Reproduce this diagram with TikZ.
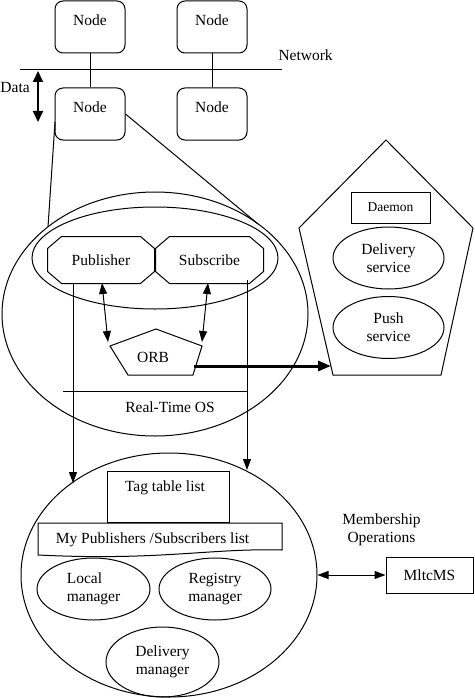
\documentclass[tikz,border=0pt]{standalone}
\usepackage{fontspec}
\setmainfont{Liberation Serif}
\usetikzlibrary{arrows.meta,shapes.geometric}
\newcommand\mainfs{\fontsize{15.5}{18}\selectfont}
\newcommand\smallfs{\fontsize{13.5}{16}\selectfont}
\begin{document}
\begin{tikzpicture}[x=1pt,y=-1pt,line width=1pt,
  >={Triangle[length=11pt,width=8pt]},
  every node/.style={font=\mainfs},
  txt/.style={inner sep=0pt},
  nodebox/.style={draw,rounded corners=8pt,minimum width=70pt,minimum height=52pt,inner sep=0pt},
  ell/.style={draw,ellipse,inner sep=0pt,align=center},
  box/.style={draw,inner sep=0pt}]
\useasboundingbox (0,0) rectangle (474,698);

% ---------- network of nodes ----------
\node[nodebox] (n1) at (90,27) {};
\node[txt] (n1t) at (90,20) {Node};
\node[nodebox] (n2) at (212,27) {};
\node[txt] (n2t) at (212,20) {Node};
\node[nodebox] (n3) at (90,114) {};
\node[txt] (n3t) at (90,107) {Node};
\node[nodebox] (n4) at (212,114) {};
\node[txt] (n4t) at (212,107) {Node};
\draw (n1.south) -- (n3.north);
\draw (n2.south) -- (n4.north);

\coordinate (netL) at (20,70);
\coordinate (netR) at (282,70);
\draw (netL) -- (netR);
\node[txt,anchor=west] (net) at (278,55) {Network};

\coordinate (dA) at (38,71);
\coordinate (dB) at (38,122);
\draw[line width=2pt,{Triangle[length=11pt,width=10pt]}-{Triangle[length=11pt,width=10pt]}] (dA) -- (dB);
\node[txt,anchor=west] (data) at (0,88) {Data};

% ---------- node internals ----------
\node[draw,ellipse,inner sep=0pt,minimum width=306pt,minimum height=244pt] (outer) at (155,314) {};
\coordinate (zLs) at (55,122);
\coordinate (zLe) at (48,227);
\coordinate (zRe) at (258,224);
\draw (zLs) -- (zLe);
\draw (n3.east) -- (zRe);

\node[draw,ellipse,inner sep=0pt,minimum width=246pt,minimum height=102pt] (inner) at (155,258) {};

\node[txt,minimum width=106pt,minimum height=46pt] (pub) at (101,260) {Publisher};
\node[txt,minimum width=107pt,minimum height=46pt] (sub) at (209.5,260) {Subscribe};
\foreach \o in {pub,sub}{
  \draw ([xshift=14pt]\o.north west) -- ([xshift=-14pt]\o.north east)
     -- ([yshift=-12pt]\o.north east) -- ([yshift=12pt]\o.south east)
     -- ([xshift=-14pt]\o.south east) -- ([xshift=14pt]\o.south west)
     -- ([yshift=12pt]\o.south west) -- ([yshift=-12pt]\o.north west) -- cycle;
}

% ORB pentagon
\coordinate (oT) at (156,329);
\coordinate (oL) at (110,346);
\coordinate (oR) at (202,346);
\coordinate (oBR) at (193,375);
\coordinate (oBL) at (128,375);
\draw (oT) -- (oR) -- (oBR) -- (oBL) -- (oL) -- cycle;
\node[txt] (orb) at (153,357) {ORB};

\coordinate (pa1) at (102,283);
\coordinate (pa2) at (108,342);
\coordinate (sa1) at (208,283);
\coordinate (sa2) at (202,342);
\draw[<->] (pa1) -- (pa2);
\draw[<->] (sa1) -- (sa2);

% Real-Time OS
\coordinate (rtL) at (63,391);
\coordinate (rtR) at (247,391);
\draw (rtL) -- (rtR);
\node[txt] (rtos) at (170,407) {Real-Time OS};

% ---------- daemon pentagon ----------
\coordinate (dT) at (386,140);
\coordinate (dL) at (299,228);
\coordinate (dR) at (473,228);
\coordinate (dBR) at (441,375);
\coordinate (dBL) at (333,375);
\draw (dT) -- (dR) -- (dBR) -- (dBL) -- (dL) -- cycle;
\node[box,minimum width=79pt,minimum height=31pt,font=\smallfs] (daemon) at (390.5,207.5) {Daemon};
\node[ell,minimum width=111pt,minimum height=62pt] (dsv) at (388.5,258) {Delivery\\service};
\node[ell,minimum width=111pt,minimum height=62pt] (psv) at (388.5,327.5) {Push\\service};

\coordinate (orbOut) at (194,366);
\coordinate (dmIn) at (331,366);
\draw[line width=3pt,-{Triangle[length=13pt,width=10pt]}] (orbOut) -- (dmIn);

% ---------- lower ellipse ----------
\node[draw,ellipse,inner sep=0pt,minimum width=296pt,minimum height=244pt] (low) at (169,575) {};

\coordinate (pubDn) at (73,283);
\coordinate (pubEnd) at (73,483);
\coordinate (subDn) at (247,280);
\coordinate (subEnd) at (247,470);
\draw[->] (pubDn) -- (pubEnd);
\draw[->] (subDn) -- (subEnd);

\node[box,minimum width=122pt,minimum height=51pt] (tag) at (168,496.5) {};
\node[txt] (tagt) at (165,488) {Tag table list};

\coordinate (mpTL) at (38,523);
\coordinate (mpTR) at (282,523);
\coordinate (mpBR) at (282,550);
\coordinate (mpBL) at (38,555);
\draw[fill=white] (mpTL) -- (mpTR) -- (mpBR) .. controls (210,548) and (160,561) .. (mpBL) -- cycle;
\node[txt] (mpt) at (152.5,540) {My Publishers /Subscribers list};

\node[ell,minimum width=113pt,minimum height=62pt,align=left] (lm) at (93.5,589) {Local\\manager};
\node[ell,minimum width=112pt,minimum height=62pt] (rm) at (215,589) {Registry\\manager};
\node[ell,minimum width=113pt,minimum height=70pt] (dm) at (162.5,662) {Delivery\\manager};

\node[box,minimum width=87pt,minimum height=36pt] (mlt) at (429.5,575) {MltcMS};
\draw[<->] (low.east) -- (mlt.west);
\node[txt,align=center] (memb) at (381.5,529.5) {Membership\\Operations};
\end{tikzpicture}
\end{document}
